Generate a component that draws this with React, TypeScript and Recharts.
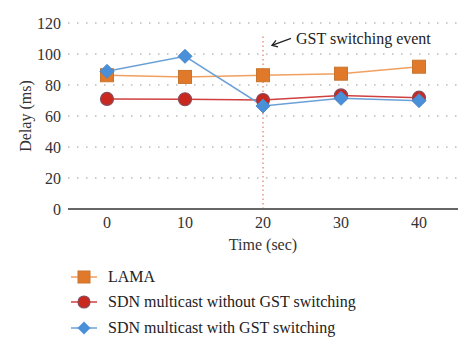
import React from 'react';
import { LineChart, Line, XAxis, YAxis, CartesianGrid, ReferenceLine, Legend } from 'recharts';

const times = ['0', '10', '20', '30', '40'];
const lama = [86.3, 85.2, 86.3, 87.3, 91.8];
const sdnWithout = [71.0, 70.8, 70.3, 73.3, 71.8];
const sdnWith = [88.8, 98.5, 66.5, 71.4, 69.9];
const yTicks = [0, 20, 40, 60, 80, 100, 120];
const seriesNames = ['LAMA', 'SDN multicast without GST switching', 'SDN multicast with GST switching'];

const data = times.map((t, i) => ({ time: t, lama: lama[i], without: sdnWithout[i], with: sdnWith[i] }));

const FONT = "'Liberation Serif', 'DejaVu Serif', serif";

const SquareDot = (props: any) => {
  const { cx, cy } = props;
  if (cx == null || cy == null) return null;
  return <rect x={cx - 6.5} y={cy - 6.5} width={13} height={13} fill="#E07A2A" stroke="#C8752F" strokeWidth={1} />;
};
const CircleDot = (props: any) => {
  const { cx, cy } = props;
  if (cx == null || cy == null) return null;
  return <circle cx={cx} cy={cy} r={6.5} fill="#C8281E" stroke="#8A4A5A" strokeWidth={1.2} />;
};
const DiamondDot = (props: any) => {
  const { cx, cy } = props;
  if (cx == null || cy == null) return null;
  return <polygon points={`${cx},${cy - 7} ${cx + 7},${cy} ${cx},${cy + 7} ${cx - 7},${cy}`} fill="#4A90D9" stroke="#4A88CC" strokeWidth={1} />;
};

const legendItems = [
  { name: seriesNames[0], line: '#F0A060', kind: 'square' },
  { name: seriesNames[1], line: '#D04040', kind: 'circle' },
  { name: seriesNames[2], line: '#6AA0D8', kind: 'diamond' },
];

const LegendContent = () => (
  <div style={{ height: 80, paddingTop: 5, boxSizing: 'border-box', paddingLeft: 71, fontFamily: FONT, fontSize: 16, color: '#222' }}>
    {legendItems.map((it) => (
      <div key={it.name} style={{ height: 25.5, display: 'flex', alignItems: 'center' }}>
        <svg width={26} height={16} style={{ marginRight: 11 }}>
          <line x1={0} y1={8} x2={26} y2={8} stroke={it.line} strokeWidth={1.5} />
          {it.kind === 'square' && <rect x={7} y={2} width={12} height={12} fill="#E07A2A" stroke="#C8752F" />}
          {it.kind === 'circle' && <circle cx={13} cy={8} r={6} fill="#C8281E" stroke="#8A4A5A" strokeWidth={1.2} />}
          {it.kind === 'diamond' && <polygon points="13,1.5 19.5,8 13,14.5 6.5,8" fill="#4A90D9" />}
        </svg>
        <span>{it.name}</span>
      </div>
    ))}
  </div>
);

const EventLabel = (props: any) => {
  const { viewBox } = props;
  const x = viewBox.x;
  const y = viewBox.y;
  return (
    <g>
      <line x1={x + 28} y1={y + 3} x2={x + 9} y2={y + 10} stroke="#222" strokeWidth={1.3} />
      <polyline points={`${x + 13},${y + 5} ${x + 9},${y + 10} ${x + 15},${y + 11.5}`} fill="none" stroke="#222" strokeWidth={1.3} />
      <text x={x + 33} y={y + 9} fontFamily={FONT} fontSize={16} fill="#222">GST switching event</text>
    </g>
  );
};

export default function App() {
  return (
    <div style={{ position: 'absolute', left: 0, top: 0, background: '#fff' }}>
      <LineChart width={474} height={353} data={data} margin={{ top: 23, right: 16, left: 0, bottom: 14 }}>
        <CartesianGrid vertical={false} stroke="#999" strokeDasharray="1.5 7.5" strokeWidth={1.2} />
        <XAxis
          dataKey="time"
          height={50}
          padding={{ left: 39, right: 39 }}
          tickLine={false}
          axisLine={{ stroke: '#666', strokeWidth: 2 }}
          tick={{ fontFamily: FONT, fontSize: 16, fill: '#333' }}
          tickMargin={2}
          label={{ value: 'Time (sec)', position: 'insideBottom', offset: 9, style: { fontFamily: FONT, fontSize: 16, fill: '#333' } }}
        />
        <YAxis
          width={68}
          domain={[0, 120]}
          ticks={yTicks}
          tickLine={false}
          axisLine={false}
          tickSize={0}
          tickMargin={7}
          interval={0}
          tick={{ fontFamily: FONT, fontSize: 16, fill: '#333' }}
          label={{ value: 'Delay (ms)', angle: -90, position: 'insideLeft', offset: 25, style: { textAnchor: 'middle', fontFamily: FONT, fontSize: 16, fill: '#333' } }}
        />
        <ReferenceLine
          segment={[{ x: '20', y: 0 }, { x: '20', y: 112 }]}
          stroke="#E07A6A"
          strokeDasharray="1.5 3"
          strokeWidth={1.2}
          label={<EventLabel />}
          ifOverflow="visible"
        />
        <Legend verticalAlign="bottom" align="left" content={<LegendContent />} wrapperStyle={{ left: 0, width: 474 }} />
        <Line name={seriesNames[0]} dataKey="lama" stroke="#F0A060" strokeWidth={1.5} dot={<SquareDot />} isAnimationActive={false} />
        <Line name={seriesNames[1]} dataKey="without" stroke="#D04040" strokeWidth={1.5} dot={<CircleDot />} isAnimationActive={false} />
        <Line name={seriesNames[2]} dataKey="with" stroke="#6AA0D8" strokeWidth={1.5} dot={<DiamondDot />} isAnimationActive={false} />
      </LineChart>
    </div>
  );
}
